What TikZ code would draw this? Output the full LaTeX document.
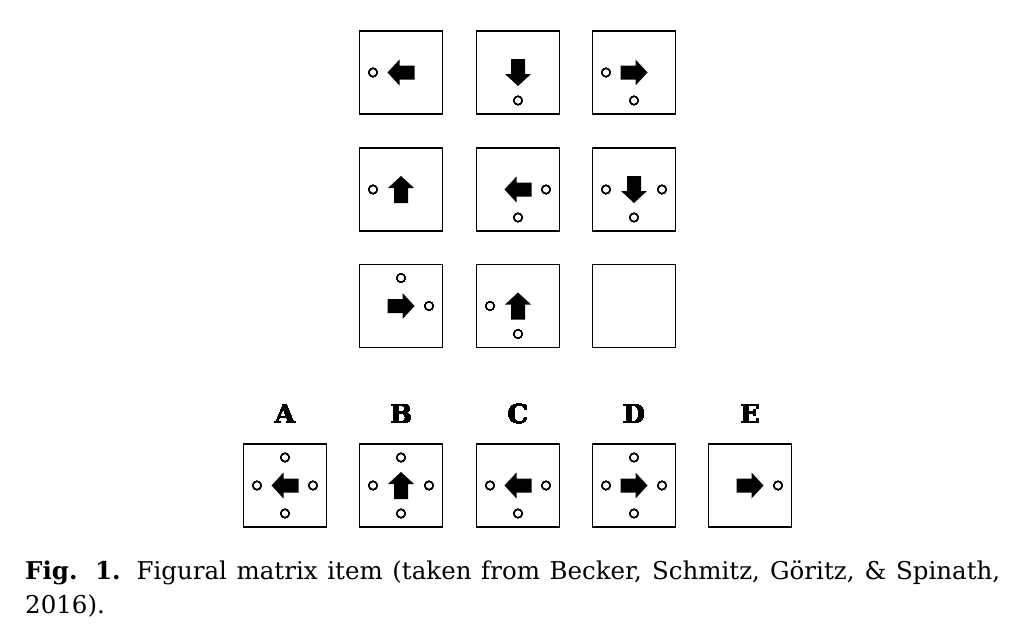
\documentclass[tikz,border=0pt]{standalone}
\usepackage{fontspec}
\setmainfont{DejaVu Serif}
\usetikzlibrary{calc}
\begin{document}
\begin{tikzpicture}[x=1pt,y=-1pt,
  box/.style={draw,line width=1.3pt,minimum size=83pt,inner sep=0pt},
  dot/.style={draw,line width=0.9pt,circle,minimum size=8.5pt,inner sep=0pt},
  lab/.style={font=\bfseries\fontsize{26}{28}\selectfont}]
\useasboundingbox (0,0) rectangle (1024,634);
\newcommand\myarr[2]{%
  \fill[rotate around={#2:(#1)}] ($(#1)+(-13.5,-7)$) -- ++(15,0) -- ++(0,-6) -- ++(12,13) -- ++(-12,13) -- ++(0,-6) -- ++(-15,0) -- cycle;}
\newcommand\cir[2]{\node[dot] at ($(#1)+(#2)$) {};}
\foreach \n/\x/\y in {a/401/72.5,b/518/72.5,c/634/72.5,d/401/189.5,e/518/189.5,f/634/189.5,g/401/306,h/518/306,i/634/306,
  A/285/485.5,B/401/485.5,C/518/485.5,D/634/485.5,E/750/485.5}
  \node[box] (\n) at (\x,\y) {};
% arrows: box/angle (0 right, -90 down, 180 left, 90 up)
\foreach \n/\r in {a/180,b/-90,c/0,d/90,e/180,f/-90,g/0,h/90,A/180,B/90,C/180,D/0,E/0}
  \myarr{\n.center}{\r}
% circles
\foreach \n/\dx/\dy in {a/-28/0,b/0/28,c/-28/0,c/0/28,d/-28/0,e/28/0,e/0/28,f/-28/0,f/28/0,f/0/28,
  g/0/-28,g/28/0,h/-28/0,h/0/28,
  A/0/-28,A/-28/0,A/28/0,A/0/28,B/0/-28,B/-28/0,B/28/0,B/0/28,C/-28/0,C/28/0,C/0/28,
  D/0/-28,D/-28/0,D/28/0,D/0/28,E/28/0}
  \cir{\n.center}{\dx,\dy}
\foreach \n in {A,B,C,D,E}
  \node[lab,anchor=base] (l\n) at ($(\n.center)+(0,-62)$) {\n};
\node[anchor=north west,inner sep=0pt,text width=975pt,align=justify,font=\fontsize{24.5}{34}\selectfont] (cap) at (25,561)
  {\textbf{Fig. 1.} Figural matrix item (taken from Becker, Schmitz, Göritz, \& Spinath,\linebreak 2016).};
\end{tikzpicture}
\end{document}
